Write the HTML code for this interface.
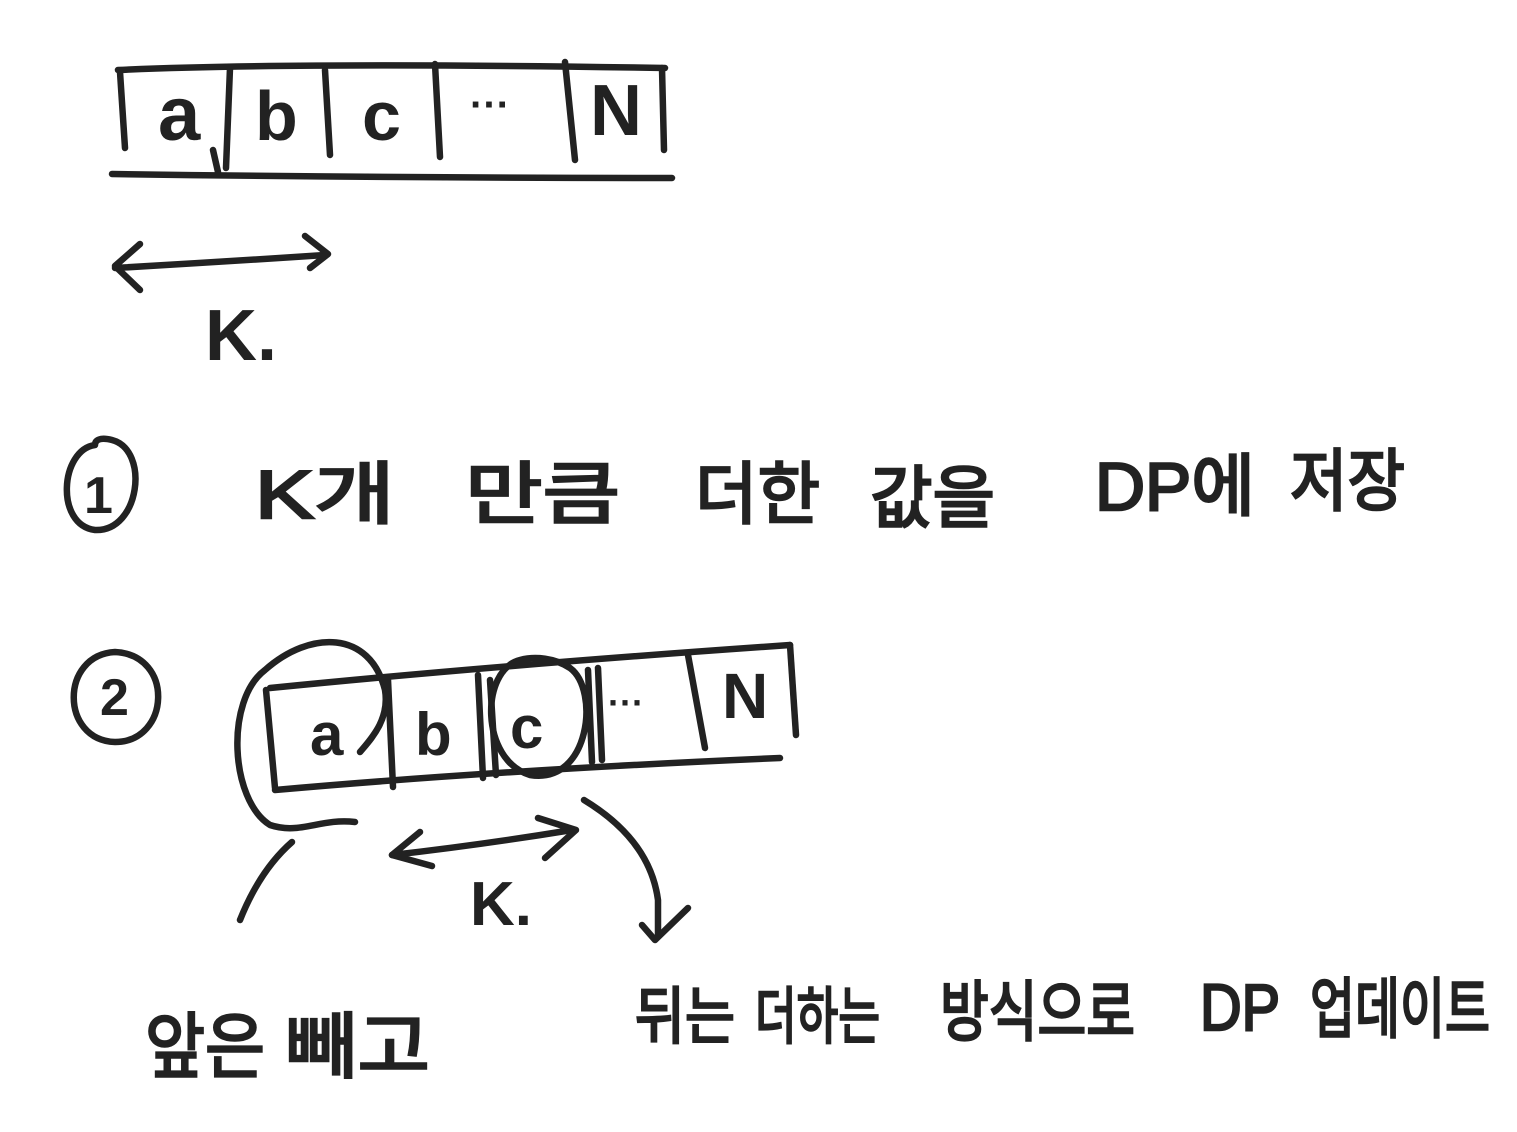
<!DOCTYPE html>
<html><head><meta charset="utf-8">
<style>
html,body{margin:0;padding:0;background:#fff;}
svg{display:block;}
text{font-family:"Liberation Sans","Noto Sans CJK KR","NanumGothic",sans-serif;fill:#222;}
</style></head>
<body>
<svg width="1517" height="1132" viewBox="0 0 1517 1132" xmlns="http://www.w3.org/2000/svg">
<g fill="none" stroke="#222" stroke-width="6.5" stroke-linecap="round" stroke-linejoin="round">
<path d="M118 70 Q300 62 665 68"/>
<path d="M112 174 Q400 178 672 178"/>
<path d="M120 72 L125 148"/>
<path d="M230 68 L226 168"/>
<path d="M213 150 L218 172"/>
<path d="M325 70 L330 155"/>
<path d="M435 64 L440 157"/>
<path d="M565 62 L575 160"/>
<path d="M662 68 L664 150"/>
<path d="M115 268 Q220 262 325 255"/>
<path d="M140 244 L115 266 L140 290"/>
<path d="M305 236 L328 254 L310 268"/>
<path d="M95 445 C60 450 55 525 95 530 C140 532 150 450 112 440 C100 437 95 440 95 445"/>
<path d="M115 652 C60 655 60 740 115 742 C170 742 175 655 115 652"/>
<path d="M270 688 Q500 665 790 645"/>
<path d="M275 790 Q500 770 780 758"/>
<path d="M266 690 L275 788"/>
<path d="M388 680 L393 787"/>
<path d="M478 675 L483 778"/>
<path d="M490 680 L496 775"/>
<path d="M588 670 L592 762"/>
<path d="M598 668 L602 760"/>
<path d="M688 655 L705 748"/>
<path d="M790 645 L796 735"/>
<path d="M355 822 C320 818 300 835 270 825 C230 800 225 700 265 670 C310 630 370 630 385 690 C390 720 370 740 360 752"/>
<path d="M520 660 C480 670 480 760 530 775 C590 785 600 690 570 668 C555 658 535 656 520 660"/>
<path d="M392 855 Q480 845 572 830"/>
<path d="M420 832 L392 855 L432 866"/>
<path d="M538 818 L576 830 L545 858"/>
<path d="M240 920 Q260 870 292 842"/>
<path d="M584 800 Q650 840 658 900 L658 935"/>
<path d="M642 925 L655 940 L688 908"/>
</g>
<g font-weight="bold">
<text x="158" y="140" font-size="76">a</text>
<text x="255" y="140" font-size="70">b</text>
<text x="362" y="140" font-size="70">c</text>
<text x="470" y="118" font-size="40">···</text>
<text x="590" y="135" font-size="72">N</text>
<text x="205" y="360" font-size="72">K.</text>
<text x="84" y="513" font-size="52">1</text>
<text x="100" y="715" font-size="52">2</text>
<text x="310" y="755" font-size="60">a</text>
<text x="415" y="755" font-size="60">b</text>
<text x="510" y="748" font-size="60">c</text>
<text x="608" y="715" font-size="36">···</text>
<text x="722" y="718" font-size="64">N</text>
<text x="470" y="925" font-size="62">K.</text>
</g>
<g font-size="68" stroke="#222" stroke-width="2.5">
<text x="255" y="518" textLength="140" lengthAdjust="spacingAndGlyphs">K개</text>
<text x="465" y="518" textLength="155" lengthAdjust="spacingAndGlyphs">만큼</text>
<text x="695" y="518" textLength="125" lengthAdjust="spacingAndGlyphs">더한</text>
<text x="870" y="522" textLength="125" lengthAdjust="spacingAndGlyphs">값을</text>
<text x="1095" y="510" textLength="160" lengthAdjust="spacingAndGlyphs">DP에</text>
<text x="1290" y="505" textLength="115" lengthAdjust="spacingAndGlyphs">저장</text>
<text x="145" y="1072" font-size="72" textLength="120" lengthAdjust="spacingAndGlyphs">앞은</text>
<text x="285" y="1072" font-size="72" textLength="145" lengthAdjust="spacingAndGlyphs">빼고</text>
<text x="635" y="1038" font-size="62" textLength="100" lengthAdjust="spacingAndGlyphs">뒤는</text>
<text x="755" y="1038" font-size="62" textLength="125" lengthAdjust="spacingAndGlyphs">더하는</text>
<text x="940" y="1035" font-size="66" textLength="195" lengthAdjust="spacingAndGlyphs">방식으로</text>
<text x="1200" y="1030" font-size="66" textLength="80" lengthAdjust="spacingAndGlyphs">DP</text>
<text x="1310" y="1032" font-size="66" textLength="180" lengthAdjust="spacingAndGlyphs">업데이트</text>
</g>
</svg>
</body></html>
